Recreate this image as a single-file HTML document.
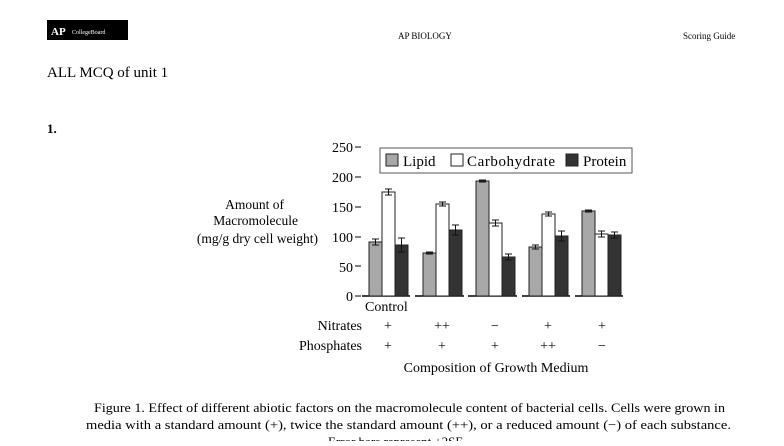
<!DOCTYPE html><html><head><style>
body{margin:0;width:784px;height:441px;background:#fff;overflow:hidden;font-family:"Liberation Serif",serif}
</style></head><body>
<svg width="784" height="441" xmlns="http://www.w3.org/2000/svg" font-family="Liberation Serif, serif">
<rect x="47" y="20" width="38" height="20" fill="#000"/>
<rect x="85" y="20" width="43" height="20" fill="#000"/>
<text x="51" y="35" font-size="11" font-weight="bold" fill="#fff">AP</text>
<text x="72" y="34" font-size="6" fill="#fff">CollegeBoard</text>
<text x="398" y="39" font-size="9">AP BIOLOGY</text>
<text x="683" y="39" font-size="9">Scoring Guide</text>
<text x="47" y="77" font-size="15">ALL MCQ of unit 1</text>
<text x="47" y="133" font-size="13" font-weight="bold">1.</text>
<g font-size="13.5" text-anchor="end">
<text x="284" y="209">Amount of</text>
<text x="298" y="225">Macromolecule</text>
<text x="318" y="243">(mg/g dry cell weight)</text>
</g>
<g font-size="14" text-anchor="end">
<text x="353" y="152">250</text><text x="353" y="182">200</text><text x="353" y="212">150</text>
<text x="353" y="242">100</text><text x="353" y="272">50</text><text x="353" y="301">0</text>
</g>
<g stroke="#000" stroke-width="1">
<line x1="355" y1="147" x2="361" y2="147"/><line x1="355" y1="177" x2="361" y2="177"/>
<line x1="355" y1="207" x2="361" y2="207"/><line x1="355" y1="237" x2="361" y2="237"/>
<line x1="355" y1="266" x2="361" y2="266"/><line x1="355" y1="296" x2="361" y2="296"/>
<line x1="362" y1="296" x2="410" y2="296" stroke-width="1.5"/>
<line x1="415" y1="296" x2="464" y2="296" stroke-width="1.5"/>
<line x1="468" y1="296" x2="517" y2="296" stroke-width="1.5"/>
<line x1="522" y1="296" x2="570" y2="296" stroke-width="1.5"/>
<line x1="575" y1="296" x2="623" y2="296" stroke-width="1.5"/>
</g>
<rect x="380" y="148" width="252" height="25" fill="#fff" stroke="#555"/>
<rect x="386" y="154" width="12" height="12" fill="#a8a8a8" stroke="#222"/>
<text x="403" y="166" font-size="15">Lipid</text>
<rect x="451" y="154" width="12" height="12" fill="#fff" stroke="#222"/>
<text x="467" y="166" font-size="15" textLength="88">Carbohydrate</text>
<rect x="566" y="154" width="12" height="12" fill="#333" stroke="#222"/>
<text x="583" y="166" font-size="15">Protein</text>
<g stroke="#222" stroke-width="1">
<rect x="369" y="242" width="13" height="54" fill="#a8a8a8"/>
<rect x="382" y="192" width="13" height="104" fill="#fff"/>
<rect x="395" y="245" width="13" height="51" fill="#333"/>
<rect x="423" y="253" width="13" height="43" fill="#a8a8a8"/>
<rect x="436" y="204" width="13" height="92" fill="#fff"/>
<rect x="449" y="230" width="13" height="66" fill="#333"/>
<rect x="476" y="181" width="13" height="115" fill="#a8a8a8"/>
<rect x="489" y="223" width="13" height="73" fill="#fff"/>
<rect x="502" y="257" width="13" height="39" fill="#333"/>
<rect x="529" y="247" width="13" height="49" fill="#a8a8a8"/>
<rect x="542" y="214" width="13" height="82" fill="#fff"/>
<rect x="555" y="236" width="13" height="60" fill="#333"/>
<rect x="582" y="211" width="13" height="85" fill="#a8a8a8"/>
<rect x="595" y="234" width="13" height="62" fill="#fff"/>
<rect x="608" y="235" width="13" height="61" fill="#333"/>
</g>
<g stroke="#111" stroke-width="1" fill="none">
<path d="M372 239h7M375.5 239v6M372 245h7"/>
<path d="M385 189h7M388.5 189v6M385 195h7"/>
<path d="M398 238h7M401.5 238v14M398 252h7"/>
<path d="M426 252h7M426 254h7"/>
<path d="M439 202h7M442.5 202v4M439 206h7"/>
<path d="M452 225h7M455.5 225v10M452 235h7"/>
<path d="M479 180h7M479 182h7"/>
<path d="M492 220h7M495.5 220v6M492 226h7"/>
<path d="M505 254h7M508.5 254v6M505 260h7"/>
<path d="M532 245h7M535.5 245v4M532 249h7"/>
<path d="M545 212h7M548.5 212v4M545 216h7"/>
<path d="M558 231h7M561.5 231v10M558 241h7"/>
<path d="M585 210h7M585 212h7"/>
<path d="M598 231h7M601.5 231v6M598 237h7"/>
<path d="M611 232h7M614.5 232v6M611 238h7"/>
</g>
<g font-size="14">
<text x="365" y="311">Control</text>
<text x="362" y="330" text-anchor="end">Nitrates</text>
<text x="362" y="350" text-anchor="end">Phosphates</text>
<g text-anchor="middle">
<text x="388" y="330">+</text><text x="442" y="330">++</text><text x="495" y="330">−</text><text x="548" y="330">+</text><text x="602" y="330">+</text>
<text x="388" y="350">+</text><text x="442" y="350">+</text><text x="495" y="350">+</text><text x="548" y="350">++</text><text x="602" y="350">−</text>
</g>
<text x="496" y="372" text-anchor="middle">Composition of Growth Medium</text>
</g>
<g font-size="13">
<text x="94" y="412" textLength="631" lengthAdjust="spacingAndGlyphs">Figure 1. Effect of different abiotic factors on the macromolecule content of bacterial cells. Cells were grown in</text>
<text x="86" y="429" textLength="645" lengthAdjust="spacingAndGlyphs">media with a standard amount (+), twice the standard amount (++), or a reduced amount (−) of each substance.</text>
<text x="328" y="446">Error bars represent ±2SE</text>
</g>
</svg>
</body></html>
